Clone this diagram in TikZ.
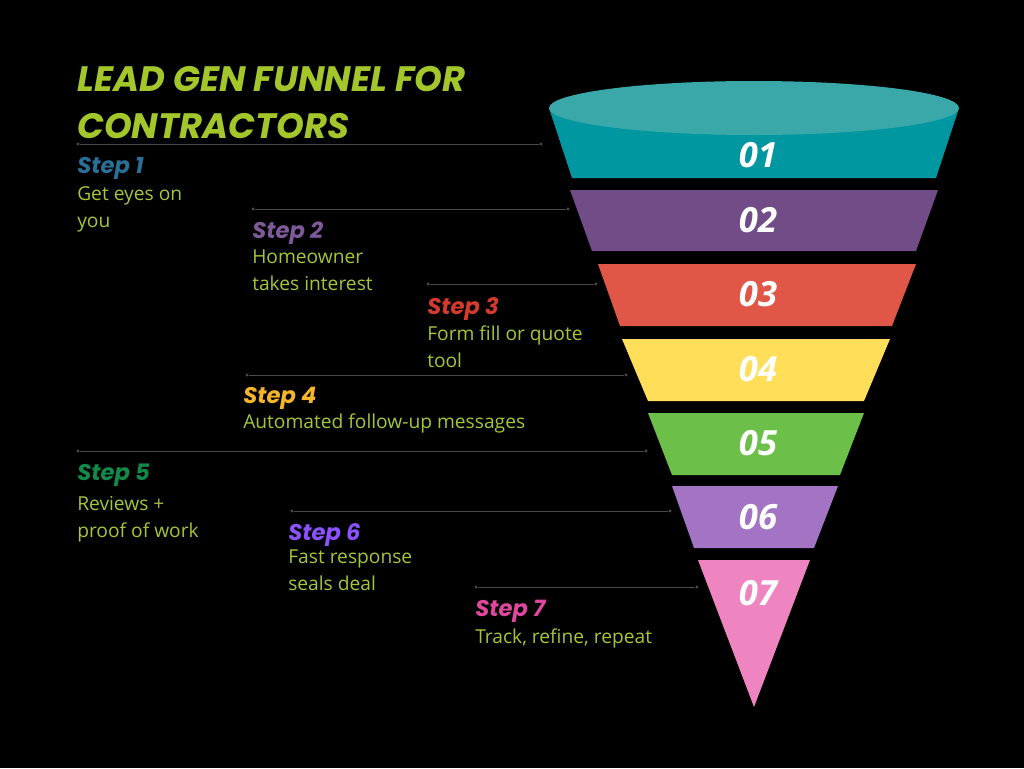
\documentclass[tikz,border=0pt]{standalone}
\usepackage{fontspec}
\setmainfont{Open Sans}
\newfontfamily\popfont{Poppins}
\begin{document}
\begin{tikzpicture}[x=0.75pt,y=-0.75pt,
  lbl/.style={anchor=base west,inner sep=0pt,font=\popfont\fontsize{17}{20}\selectfont\bfseries\itshape},
  body/.style={anchor=base west,inner sep=0pt,align=left,text=bodyc,font=\fontsize{14.4}{20.25}\selectfont},
  num/.style={text=white,font=\fontsize{26}{30}\selectfont\bfseries\itshape},
  conn/.style={draw=linec,line width=0.6pt},
  dot/.style={circle,fill=linec,inner sep=0pt,minimum size=2.5pt}]
\definecolor{bodyc}{HTML}{A3C63A}
\definecolor{titlec}{HTML}{A3C62B}
\definecolor{linec}{HTML}{4A4A4A}
\fill[black] (0,0) rectangle (1024,768);
\useasboundingbox (0,0) rectangle (1024,768);
% funnel
\definecolor{c1}{HTML}{0097A0}\definecolor{c1t}{HTML}{3AA8A8}
\fill[c1] (549,108) -- (959,108) -- (936,178) -- (572,178) -- cycle;
\fill[c1t] (754,108) ellipse [x radius=205,y radius=27];
\definecolor{c2}{HTML}{714C86}\fill[c2] (570,190) -- (938,190) -- (916,251) -- (592,251) -- cycle;
\definecolor{c3}{HTML}{E05747}\fill[c3] (598,264) -- (916,264) -- (892,326) -- (620,326) -- cycle;
\definecolor{c4}{HTML}{FFDE59}\fill[c4] (622,339) -- (890,339) -- (864,401) -- (648,401) -- cycle;
\definecolor{c5}{HTML}{6CC04A}\fill[c5] (648,413) -- (864,413) -- (840,475) -- (672,475) -- cycle;
\definecolor{c6}{HTML}{A474C4}\fill[c6] (672,486) -- (838,486) -- (814,548) -- (694,548) -- cycle;
\definecolor{c7}{HTML}{EE85C0}\fill[c7] (698,560) -- (810,560) -- (754,707) -- cycle;
\node[num] (n1) at (758,155) {01};
\node[num] (n2) at (758,220) {02};
\node[num] (n3) at (758,294) {03};
\node[num] (n4) at (758,369) {04};
\node[num] (n5) at (758,443) {05};
\node[num] (n6) at (758,517) {06};
\node[num] (n7) at (758,593) {07};
% title
\node[anchor=base west,inner sep=0pt,align=left,text=titlec,font=\popfont\fontsize{26.5}{35.25}\selectfont\bfseries\itshape] (title) at (77,138) {LEAD GEN FUNNEL FOR\\CONTRACTORS};
% connectors
\foreach \i/\xa/\xb/\y in {1/78/541/144,2/253/568/209,3/428/596/284,4/247/626/375,5/78/646/451,6/292/670/511,7/476/697/587}{
  \node[dot] (a\i) at (\xa,\y) {};
  \node[dot] (b\i) at (\xb,\y) {};
  \draw[conn] (a\i) -- (b\i);
}
% steps
\definecolor{s1}{HTML}{2A6F97}\definecolor{s2}{HTML}{7E5A9B}\definecolor{s3}{HTML}{D63A2E}
\definecolor{s4}{HTML}{F5B52A}\definecolor{s5}{HTML}{128A4A}\definecolor{s6}{HTML}{8C52FF}\definecolor{s7}{HTML}{E0479E}
\node[lbl,text=s1] (l1) at (77,173) {Step 1};
\node[body] (t1) at (77,227) {Get eyes on\\you};
\node[lbl,text=s2] (l2) at (252,238) {Step 2};
\node[body] (t2) at (252,290) {Homeowner\\takes interest};
\node[lbl,text=s3] (l3) at (427,314) {Step 3};
\node[body] (t3) at (427,367) {Form fill or quote\\tool};
\node[lbl,text=s4] (l4) at (243,403) {Step 4};
\node[body] (t4) at (243,428) {Automated follow-up messages};
\node[lbl,text=s5] (l5) at (77,480) {Step 5};
\node[body] (t5) at (77,537) {Reviews +\\proof of work};
\node[lbl,text=s6] (l6) at (288,540) {Step 6};
\node[body] (t6) at (288,590) {Fast response\\seals deal};
\node[lbl,text=s7] (l7) at (475,616) {Step 7};
\node[body] (t7) at (475,643) {Track, refine, repeat};
\end{tikzpicture}
\end{document}
